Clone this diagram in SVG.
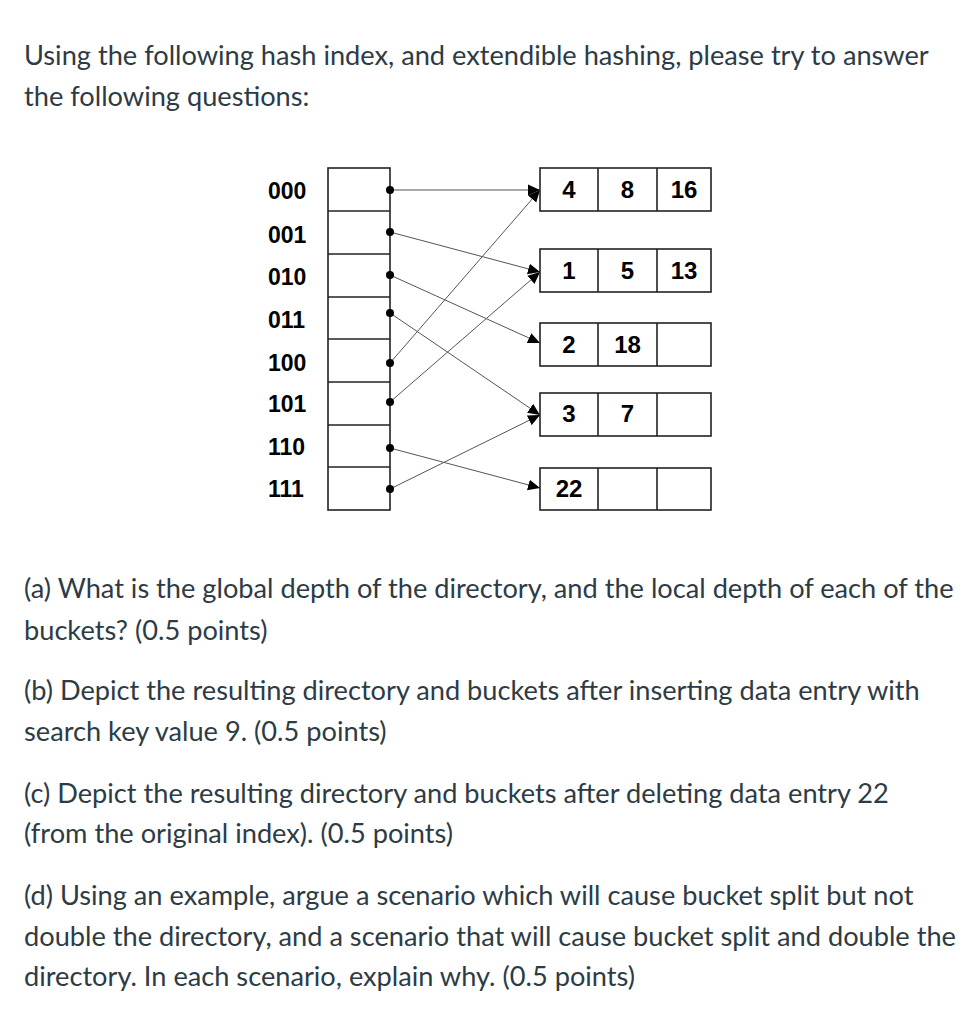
<svg xmlns="http://www.w3.org/2000/svg" width="971" height="1024" viewBox="0 0 971 1024">
<style>
.p{font-family:Lato,"Open Sans",sans-serif;font-size:27.2px;fill:#2d3b45}
.lab{font-family:"Liberation Sans",Arial,sans-serif;font-weight:bold;font-size:23px;fill:#000}
.num{font-family:"Liberation Sans",Arial,sans-serif;font-weight:bold;font-size:24px;fill:#000;text-anchor:middle}
.box{fill:#fff;stroke:#222;stroke-width:1.6}
.ln{stroke:#222;stroke-width:1.6}
.con{stroke:#555;stroke-width:1;fill:none;marker-end:url(#ah)}
.dot{fill:#000}
</style>
<defs>
<marker id="ah" markerUnits="userSpaceOnUse" markerWidth="12" markerHeight="12" viewBox="0 0 10 10" refX="10" refY="5" orient="auto">
<path d="M0,0.5 L10,5 L0,9.5 Z" fill="#000"/>
</marker>
</defs>
<rect width="971" height="1024" fill="#fff"/>
<g id="intro">
<text class="p" x="24" y="65">Using the following hash index, and extendible hashing, please try to answer</text>
<text class="p" x="24" y="106">the following questions:</text>
</g>
<g id="directory">
<rect class="box" x="328" y="168" width="62" height="342"/>
<line class="ln" x1="328" y1="211" x2="390" y2="211"/>
<line class="ln" x1="328" y1="254" x2="390" y2="254"/>
<line class="ln" x1="328" y1="297" x2="390" y2="297"/>
<line class="ln" x1="328" y1="339" x2="390" y2="339"/>
<line class="ln" x1="328" y1="382" x2="390" y2="382"/>
<line class="ln" x1="328" y1="425" x2="390" y2="425"/>
<line class="ln" x1="328" y1="467" x2="390" y2="467"/>
<text class="lab" x="268" y="199">000</text>
<text class="lab" x="268" y="243">001</text>
<text class="lab" x="268" y="285">010</text>
<text class="lab" x="268" y="328">011</text>
<text class="lab" x="268" y="371">100</text>
<text class="lab" x="268" y="412">101</text>
<text class="lab" x="268" y="455">110</text>
<text class="lab" x="268" y="497">111</text>
</g>
<g id="connectors">
<line class="con" x1="390" y1="190" x2="540" y2="190"/>
<line class="con" x1="390" y1="232" x2="540" y2="272"/>
<line class="con" x1="390" y1="275" x2="540" y2="343"/>
<line class="con" x1="390" y1="313" x2="540" y2="415"/>
<line class="con" x1="390" y1="363" x2="540" y2="190"/>
<line class="con" x1="390" y1="402" x2="540" y2="272"/>
<line class="con" x1="390" y1="448" x2="540" y2="488"/>
<line class="con" x1="390" y1="489" x2="540" y2="415"/>
<circle class="dot" cx="390" cy="190" r="4"/>
<circle class="dot" cx="390" cy="232" r="4"/>
<circle class="dot" cx="390" cy="275" r="4"/>
<circle class="dot" cx="390" cy="313" r="4"/>
<circle class="dot" cx="390" cy="363" r="4"/>
<circle class="dot" cx="390" cy="402" r="4"/>
<circle class="dot" cx="390" cy="448" r="4"/>
<circle class="dot" cx="390" cy="489" r="4"/>
</g>
<g id="bucket1">
<rect class="box" x="540" y="168" width="171" height="43"/>
<line class="ln" x1="598" y1="168" x2="598" y2="211"/>
<line class="ln" x1="657" y1="168" x2="657" y2="211"/>
<text class="num" x="569" y="198">4</text>
<text class="num" x="627.5" y="198">8</text>
<text class="num" x="684" y="198">16</text>
</g>
<g id="bucket2">
<rect class="box" x="540" y="249" width="171" height="43"/>
<line class="ln" x1="598" y1="249" x2="598" y2="292"/>
<line class="ln" x1="657" y1="249" x2="657" y2="292"/>
<text class="num" x="569" y="279">1</text>
<text class="num" x="627.5" y="279">5</text>
<text class="num" x="684" y="279">13</text>
</g>
<g id="bucket3">
<rect class="box" x="540" y="323" width="171" height="43"/>
<line class="ln" x1="598" y1="323" x2="598" y2="366"/>
<line class="ln" x1="657" y1="323" x2="657" y2="366"/>
<text class="num" x="569" y="353">2</text>
<text class="num" x="627.5" y="353">18</text>
</g>
<g id="bucket4">
<rect class="box" x="540" y="393" width="171" height="43"/>
<line class="ln" x1="598" y1="393" x2="598" y2="436"/>
<line class="ln" x1="657" y1="393" x2="657" y2="436"/>
<text class="num" x="569" y="422">3</text>
<text class="num" x="627.5" y="422">7</text>
</g>
<g id="bucket5">
<rect class="box" x="540" y="468" width="171" height="42"/>
<line class="ln" x1="598" y1="468" x2="598" y2="510"/>
<line class="ln" x1="657" y1="468" x2="657" y2="510"/>
<text class="num" x="569" y="497">22</text>
</g>
<g id="questions">
<text class="p" x="24" y="598">(a) What is the global depth of the directory, and the local depth of each of the</text>
<text class="p" x="24" y="640">buckets? (0.5 points)</text>
<text class="p" x="24" y="700">(b) Depict the resulting directory and buckets after inserting data entry with</text>
<text class="p" x="24" y="741">search key value 9. (0.5 points)</text>
<text class="p" x="24" y="803">(c) Depict the resulting directory and buckets after deleting data entry 22</text>
<text class="p" x="24" y="843">(from the original index). (0.5 points)</text>
<text class="p" x="24" y="905">(d) Using an example, argue a scenario which will cause bucket split but not</text>
<text class="p" x="24" y="946">double the directory, and a scenario that will cause bucket split and double the</text>
<text class="p" x="24" y="986">directory. In each scenario, explain why. (0.5 points)</text>
</g>
</svg>
